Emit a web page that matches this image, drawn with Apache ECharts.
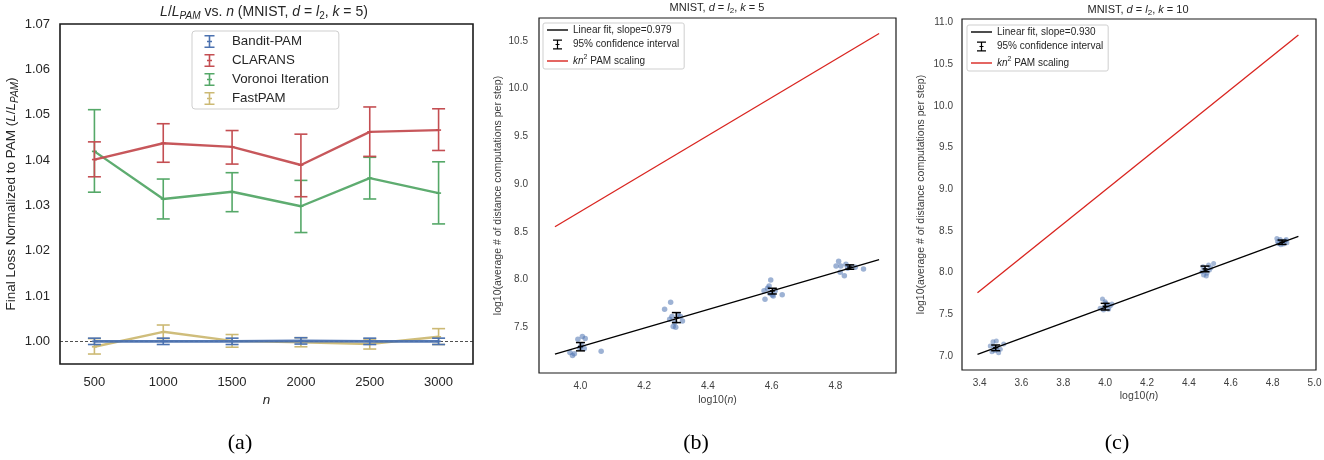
<!DOCTYPE html>
<html>
<head>
<meta charset="utf-8">
<script src="https://cdn.jsdelivr.net/npm/echarts@6/dist/echarts.min.js"></script>
<style>
html, body { margin: 0; padding: 0; background: #fff; }
#main { width: 1324px; height: 460px; }
</style>
</head>
<body>
<div id="main"></div>
<script>
// ---- panel (a): loss ratio vs n ----
var nValues = [500, 1000, 1500, 2000, 2500, 3000];
var banditMean = [1.0000, 1.0000, 1.0000, 1.0001, 1.0000, 1.0000];
var banditLow = [0.9993, 0.9993, 0.9993, 0.9994, 0.9993, 0.9993];
var banditHigh = [1.0007, 1.0007, 1.0007, 1.0008, 1.0007, 1.0007];
var claransMean = [1.0401, 1.0437, 1.0429, 1.0389, 1.0462, 1.0466];
var claransLow = [1.0363, 1.0395, 1.0391, 1.0319, 1.0408, 1.0421];
var claransHigh = [1.0440, 1.0480, 1.0465, 1.0457, 1.0517, 1.0513];
var voronoiMean = [1.0419, 1.0314, 1.0330, 1.0298, 1.0360, 1.0327];
var voronoiLow = [1.0329, 1.0270, 1.0286, 1.0240, 1.0314, 1.0259];
var voronoiHigh = [1.0511, 1.0358, 1.0372, 1.0355, 1.0406, 1.0396];
var fastMean = [0.9988, 1.0021, 1.0001, 0.9998, 0.9994, 1.0010];
var fastLow = [0.9972, 1.0006, 0.9987, 0.9988, 0.9983, 0.9993];
var fastHigh = [1.0006, 1.0036, 1.0015, 1.0008, 1.0005, 1.0028];
var aXTicks = [500, 1000, 1500, 2000, 2500, 3000];
var aYTicks = [1.00, 1.01, 1.02, 1.03, 1.04, 1.05, 1.06, 1.07];

// ---- panel (b): k = 5 ----
var bLogN = [4.0, 4.301, 4.602, 4.845];
var bCiMean = [7.297, 7.600, 7.880, 8.130];
var bCiLow = [7.252, 7.548, 7.848, 8.107];
var bCiHigh = [7.339, 7.653, 7.908, 8.153];
var bScatterX = [3.992, 4.006, 4.015, 3.967, 3.975, 3.981, 4.065, 4.012, 3.998, 4.003,
                 4.264, 4.283, 4.291, 4.299, 4.320, 4.314, 4.280, 4.306, 4.296, 4.287,
                 4.597, 4.592, 4.576, 4.579, 4.602, 4.633, 4.594, 4.587, 4.611, 4.605,
                 4.810, 4.802, 4.817, 4.815, 4.828, 4.833, 4.846, 4.862, 4.888, 4.838];
var bScatterY = [7.374, 7.402, 7.381, 7.234, 7.203, 7.221, 7.249, 7.276, 7.282, 7.310,
                 7.688, 7.761, 7.506, 7.500, 7.566, 7.611, 7.584, 7.629, 7.548, 7.611,
                 7.995, 7.932, 7.883, 7.793, 7.838, 7.841, 7.856, 7.908, 7.883, 7.827,
                 8.190, 8.141, 8.141, 8.075, 8.040, 8.159, 8.134, 8.128, 8.110, 8.117];
var bLineX = [3.92, 4.937];
var bFitY = [7.218, 8.209];
var bPamY = [8.552, 10.577];
var bXTicks = [4.0, 4.2, 4.4, 4.6, 4.8];
var bYTicks = [7.5, 8.0, 8.5, 9.0, 9.5, 10.0, 10.5];

// ---- panel (c): k = 10 ----
var cLogN = [3.477, 4.0, 4.477, 4.845];
var cCiMean = [7.100, 7.595, 8.045, 8.365];
var cCiLow = [7.064, 7.552, 8.011, 8.339];
var cCiHigh = [7.132, 7.632, 8.079, 8.391];
var cScatterX = [3.464, 3.480, 3.459, 3.491, 3.515, 3.469, 3.481, 3.499, 3.451, 3.474,
                 3.987, 4.000, 4.008, 4.024, 3.992, 3.976, 4.016, 4.003, 4.032, 3.995,
                 4.467, 4.478, 4.486, 4.470, 4.494, 4.518, 4.505, 4.483, 4.462, 4.498,
                 4.820, 4.836, 4.860, 4.828, 4.852, 4.868, 4.844, 4.823, 4.865, 4.839];
var cScatterY = [7.172, 7.180, 7.052, 7.040, 7.144, 7.112, 7.092, 7.080, 7.120, 7.064,
                 7.683, 7.651, 7.612, 7.600, 7.552, 7.572, 7.560, 7.632, 7.624, 7.584,
                 8.071, 8.031, 7.992, 7.971, 8.091, 8.111, 8.059, 7.959, 8.011, 8.031,
                 8.411, 8.399, 8.383, 8.351, 8.343, 8.359, 8.375, 8.371, 8.399, 8.335];
var cLineX = [3.39, 4.923];
var cFitY = [7.02, 8.436];
var cPamY = [7.76, 10.853];
var cXTicks = [3.4, 3.6, 3.8, 4.0, 4.2, 4.4, 4.6, 4.8, 5.0];
var cYTicks = [7.0, 7.5, 8.0, 8.5, 9.0, 9.5, 10.0, 10.5, 11.0];

var FONT = 'Liberation Sans';
var BLUE = '#4c72b0', RED = '#c44e52', GREEN = '#55a868', GOLD = '#ccb974';
var PAM_RED = '#d9241f';

// legend icons (invisible corner dots keep the box size)
var ebIconA = 'path://M0,6.5h0.01v0.01h-0.01z M25.99,6.5h0.01v0.01h-0.01z ' +
    'M1.5,0L11.5,0L11.5,1.6L7.3,1.6L7.3,5.7L9,5.7L9,7.3L7.3,7.3L7.3,11.4L11.5,11.4L11.5,13' +
    'L1.5,13L1.5,11.4L5.7,11.4L5.7,7.3L4,7.3L4,5.7L5.7,5.7L5.7,1.6L1.5,1.6Z';
var ebIconB = 'path://M0,5h0.01v0.01h-0.01z M20.99,5h0.01v0.01h-0.01z ' +
    'M6,0L15,0L15,1.2L11.1,1.2L11.1,4.4L12.5,4.4L12.5,5.6L11.1,5.6L11.1,8.8L15,8.8L15,10' +
    'L6,10L6,8.8L9.9,8.8L9.9,5.6L8.5,5.6L8.5,4.4L9.9,4.4L9.9,1.2L6,1.2Z';
var lineIcon = 'path://M0,0h21v1.4h-21z';

function zip2(xs, ys) {
    return xs.map(function (x, i) { return [x, ys[i]]; });
}
function zipBars(xs, lo, hi, mid) {
    return xs.map(function (x, i) { return [x, lo[i], hi[i], mid[i]]; });
}

function errorBar(capW, tickW, lw) {
    return function (params, api) {
        var x = api.value(0);
        var top = api.coord([x, api.value(2)]);
        var bot = api.coord([x, api.value(1)]);
        var mid = api.coord([x, api.value(3)]);
        var c = api.visual('color');
        function st() { return {stroke: c, lineWidth: lw, fill: null}; }
        var h = capW / 2, t = tickW / 2;
        return {
            type: 'group',
            children: [
                {type: 'line', shape: {x1: top[0], y1: top[1], x2: bot[0], y2: bot[1]}, style: st()},
                {type: 'line', shape: {x1: top[0] - h, y1: top[1], x2: top[0] + h, y2: top[1]}, style: st()},
                {type: 'line', shape: {x1: bot[0] - h, y1: bot[1], x2: bot[0] + h, y2: bot[1]}, style: st()},
                {type: 'line', shape: {x1: mid[0] - t, y1: mid[1], x2: mid[0] + t, y2: mid[1]}, style: st()}
            ]
        };
    };
}

function richSet(size, color) {
    var sub = Math.round(size * 0.72);
    return {
        t: {fontFamily: FONT, fontSize: size, color: color, lineHeight: size + 4},
        i: {fontFamily: FONT, fontSize: size, color: color, fontStyle: 'italic', lineHeight: size + 4},
        s: {fontFamily: FONT, fontSize: sub, color: color, lineHeight: size * 0.5, verticalAlign: 'bottom'},
        si: {fontFamily: FONT, fontSize: sub, color: color, fontStyle: 'italic', lineHeight: size * 0.5,
            verticalAlign: 'bottom'},
        p: {fontFamily: FONT, fontSize: sub, color: color, lineHeight: size * 0.55, verticalAlign: 'top'}
    };
}

function valueAxis(gi, min, max, ticks, digits, size, color, margin, name, nameGap, isY) {
    return {
        type: 'value',
        gridIndex: gi,
        min: min,
        max: max,
        name: name,
        nameLocation: 'middle',
        nameGap: nameGap,
        nameRotate: isY ? 90 : 0,
        nameMoveOverlap: false,
        nameTextStyle: {fontFamily: FONT, fontSize: size + 0.5, color: color, rich: richSet(size + 0.5, color)},
        axisLine: {show: false},
        axisTick: {show: false},
        splitLine: {show: false},
        axisLabel: {
            customValues: ticks,
            margin: margin,
            fontFamily: FONT,
            fontSize: size,
            color: color,
            formatter: function (v) { return v.toFixed(digits); }
        }
    };
}

var chart = echarts.init(document.getElementById('main'), null, {renderer: 'canvas'});

var option = {
    animation: false,
    backgroundColor: '#fff',
    title: [
        {
            text: '{i|L}{t|/}{i|L}{si|PAM}{t| vs. }{i|n}{t| (MNIST, }{i|d}{t| = }{i|l}{s|2}{t|, }{i|k}{t| = 5)}',
            left: 264, top: 3, textAlign: 'center', padding: 0,
            textStyle: {fontFamily: FONT, fontSize: 14, fontWeight: 'normal', color: '#262626', rich: richSet(14, '#262626')}
        },
        {
            text: '{t|MNIST, }{i|d}{t| = }{i|l}{s|2}{t|, }{i|k}{t| = 5}',
            left: 717, top: 0, textAlign: 'center', padding: 0,
            textStyle: {fontFamily: FONT, fontSize: 11, fontWeight: 'normal', color: '#262626', rich: richSet(11, '#262626')}
        },
        {
            text: '{t|MNIST, }{i|d}{t| = }{i|l}{s|2}{t|, }{i|k}{t| = 10}',
            left: 1138, top: 2, textAlign: 'center', padding: 0,
            textStyle: {fontFamily: FONT, fontSize: 11, fontWeight: 'normal', color: '#262626', rich: richSet(11, '#262626')}
        },
        {text: '(a)', left: 240, top: 432, textAlign: 'center', padding: 0,
            textStyle: {fontFamily: 'Liberation Serif', fontSize: 22, fontWeight: 'normal', color: '#000'}},
        {text: '(b)', left: 696, top: 432, textAlign: 'center', padding: 0,
            textStyle: {fontFamily: 'Liberation Serif', fontSize: 22, fontWeight: 'normal', color: '#000'}},
        {text: '(c)', left: 1117, top: 432, textAlign: 'center', padding: 0,
            textStyle: {fontFamily: 'Liberation Serif', fontSize: 22, fontWeight: 'normal', color: '#000'}}
    ],
    legend: [
        {
            left: 192, top: 31, orient: 'vertical',
            padding: [4, 10, 4, 11],
            itemWidth: 26, itemHeight: 13, itemGap: 6,
            backgroundColor: '#fff', borderColor: '#cfcfcf', borderWidth: 1, borderRadius: 3,
            itemStyle: {borderWidth: 0},
            textStyle: {fontFamily: FONT, fontSize: 13.3, color: '#262626', padding: [0, 0, 0, -2]},
            data: [
                {name: 'Bandit-PAM', icon: ebIconA},
                {name: 'CLARANS', icon: ebIconA},
                {name: 'Voronoi Iteration', icon: ebIconA},
                {name: 'FastPAM', icon: ebIconA}
            ]
        },
        {
            left: 543, top: 23, orient: 'vertical',
            padding: [2, 5, 3, 4],
            itemWidth: 21, itemHeight: 10, itemGap: 4.5,
            backgroundColor: '#fff', borderColor: '#cfcfcf', borderWidth: 1, borderRadius: 2,
            itemStyle: {borderWidth: 0},
            textStyle: {fontFamily: FONT, fontSize: 10, color: '#262626', rich: richSet(10, '#262626')},
            formatter: function (name) {
                return name === 'kn2 PAM scaling' ? '{i|kn}{p|2}{t| PAM scaling}' : '{t|' + name + '}';
            },
            data: [
                {name: 'Linear fit, slope=0.979', icon: lineIcon},
                {name: '95% confidence interval', icon: ebIconB},
                {name: 'kn2 PAM scaling', icon: lineIcon}
            ]
        },
        {
            left: 967, top: 25, orient: 'vertical',
            padding: [2, 5, 3, 4],
            itemWidth: 21, itemHeight: 10, itemGap: 4.5,
            backgroundColor: '#fff', borderColor: '#cfcfcf', borderWidth: 1, borderRadius: 2,
            itemStyle: {borderWidth: 0},
            textStyle: {fontFamily: FONT, fontSize: 10, color: '#262626', rich: richSet(10, '#262626')},
            formatter: function (name) {
                return name === 'kn2 PAM scaling' ? '{i|kn}{p|2}{t| PAM scaling}' : '{t|' + name + '}';
            },
            data: [
                {name: 'Linear fit, slope=0.930', icon: lineIcon},
                {name: '95% confidence interval', icon: ebIconB},
                {name: 'kn2 PAM scaling', icon: lineIcon}
            ]
        }
    ],
    grid: [
        {left: 60, top: 24, width: 413, height: 340, show: true, borderColor: '#1a1a1a', borderWidth: 1.6,
            containLabel: false, outerBoundsMode: 'none'},
        {left: 539, top: 18, width: 357, height: 355, show: true, borderColor: '#1a1a1a', borderWidth: 1.2,
            containLabel: false, outerBoundsMode: 'none'},
        {left: 962, top: 19, width: 354, height: 351, show: true, borderColor: '#1a1a1a', borderWidth: 1.2,
            containLabel: false, outerBoundsMode: 'none'}
    ],
    xAxis: [
        valueAxis(0, 250, 3250, aXTicks, 0, 13, '#262626', 12, '{i|n}', 27, false),
        valueAxis(1, 3.87, 4.99, bXTicks, 1, 10, '#404040', 8, '{t|log10(}{i|n}{t|)}', 20, false),
        valueAxis(2, 3.316, 5.007, cXTicks, 1, 10, '#404040', 8, '{t|log10(}{i|n}{t|)}', 19, false)
    ],
    yAxis: [
        valueAxis(0, 0.995, 1.07, aYTicks, 2, 13, '#262626', 10,
            '{t|Final Loss Normalized to PAM (}{i|L}{t|/}{i|L}{si|PAM}{t|)}', 40, true),
        valueAxis(1, 7.02, 10.74, bYTicks, 1, 10, '#404040', 11,
            '{t|log10(average # of distance computations per step)}', 34, true),
        valueAxis(2, 6.832, 11.044, cYTicks, 1, 10, '#404040', 9,
            '{t|log10(average # of distance computations per step)}', 34, true)
    ],
    series: [
        // panel (a)
        {
            name: 'FastPAM', type: 'line', xAxisIndex: 0, yAxisIndex: 0, symbol: 'none', z: 3,
            data: zip2(nValues, fastMean),
            itemStyle: {color: GOLD}, lineStyle: {color: GOLD, width: 2.4, opacity: 0.95}
        },
        {
            name: 'FastPAM', type: 'custom', xAxisIndex: 0, yAxisIndex: 0, z: 3,
            itemStyle: {color: GOLD}, encode: {x: 0, y: [1, 2]},
            renderItem: errorBar(13, 5, 1.6), data: zipBars(nValues, fastLow, fastHigh, fastMean)
        },
        {
            name: 'Voronoi Iteration', type: 'line', xAxisIndex: 0, yAxisIndex: 0, symbol: 'none', z: 3,
            data: zip2(nValues, voronoiMean),
            itemStyle: {color: GREEN}, lineStyle: {color: GREEN, width: 2.4, opacity: 0.95}
        },
        {
            name: 'Voronoi Iteration', type: 'custom', xAxisIndex: 0, yAxisIndex: 0, z: 3,
            itemStyle: {color: GREEN}, encode: {x: 0, y: [1, 2]},
            renderItem: errorBar(13, 5, 1.6), data: zipBars(nValues, voronoiLow, voronoiHigh, voronoiMean)
        },
        {
            name: 'CLARANS', type: 'line', xAxisIndex: 0, yAxisIndex: 0, symbol: 'none', z: 4,
            data: zip2(nValues, claransMean),
            itemStyle: {color: RED}, lineStyle: {color: RED, width: 2.4, opacity: 0.95}
        },
        {
            name: 'CLARANS', type: 'custom', xAxisIndex: 0, yAxisIndex: 0, z: 4,
            itemStyle: {color: RED}, encode: {x: 0, y: [1, 2]},
            renderItem: errorBar(13, 5, 1.6), data: zipBars(nValues, claransLow, claransHigh, claransMean)
        },
        {
            name: 'Bandit-PAM', type: 'line', xAxisIndex: 0, yAxisIndex: 0, symbol: 'none', z: 5,
            data: zip2(nValues, banditMean),
            itemStyle: {color: BLUE}, lineStyle: {color: BLUE, width: 2.6, opacity: 0.95},
            markLine: {
                silent: true, symbol: ['none', 'none'], label: {show: false},
                lineStyle: {type: [3, 2], color: '#222', width: 0.8},
                data: [{yAxis: 1.0}]
            }
        },
        {
            name: 'Bandit-PAM', type: 'custom', xAxisIndex: 0, yAxisIndex: 0, z: 5,
            itemStyle: {color: BLUE}, encode: {x: 0, y: [1, 2]},
            renderItem: errorBar(13, 5, 1.6), data: zipBars(nValues, banditLow, banditHigh, banditMean)
        },
        // panel (b)
        {
            name: 'bPoints', type: 'scatter', xAxisIndex: 1, yAxisIndex: 1, symbolSize: 5.5, z: 2,
            itemStyle: {color: BLUE, opacity: 0.55}, data: zip2(bScatterX, bScatterY)
        },
        {
            name: 'kn2 PAM scaling', type: 'line', xAxisIndex: 1, yAxisIndex: 1, symbol: 'none', z: 3,
            data: zip2(bLineX, bPamY), itemStyle: {color: PAM_RED}, lineStyle: {color: PAM_RED, width: 1.3}
        },
        {
            name: 'Linear fit, slope=0.979', type: 'line', xAxisIndex: 1, yAxisIndex: 1, symbol: 'none', z: 3,
            data: zip2(bLineX, bFitY), itemStyle: {color: '#000'}, lineStyle: {color: '#000', width: 1.3}
        },
        {
            name: '95% confidence interval', type: 'custom', xAxisIndex: 1, yAxisIndex: 1, z: 4,
            itemStyle: {color: '#000'}, encode: {x: 0, y: [1, 2]},
            renderItem: errorBar(9, 5, 1.5), data: zipBars(bLogN, bCiLow, bCiHigh, bCiMean)
        },
        // panel (c)
        {
            name: 'cPoints', type: 'scatter', xAxisIndex: 2, yAxisIndex: 2, symbolSize: 5, z: 2,
            itemStyle: {color: BLUE, opacity: 0.5}, data: zip2(cScatterX, cScatterY)
        },
        {
            name: 'kn2 PAM scaling', type: 'line', xAxisIndex: 2, yAxisIndex: 2, symbol: 'none', z: 3,
            data: zip2(cLineX, cPamY), itemStyle: {color: PAM_RED}, lineStyle: {color: PAM_RED, width: 1.3}
        },
        {
            name: 'Linear fit, slope=0.930', type: 'line', xAxisIndex: 2, yAxisIndex: 2, symbol: 'none', z: 3,
            data: zip2(cLineX, cFitY), itemStyle: {color: '#000'}, lineStyle: {color: '#000', width: 1.3}
        },
        {
            name: '95% confidence interval', type: 'custom', xAxisIndex: 2, yAxisIndex: 2, z: 4,
            itemStyle: {color: '#000'}, encode: {x: 0, y: [1, 2]},
            renderItem: errorBar(9, 5, 1.5), data: zipBars(cLogN, cCiLow, cCiHigh, cCiMean)
        }
    ]
};

chart.setOption(option);
</script>
</body>
</html>
